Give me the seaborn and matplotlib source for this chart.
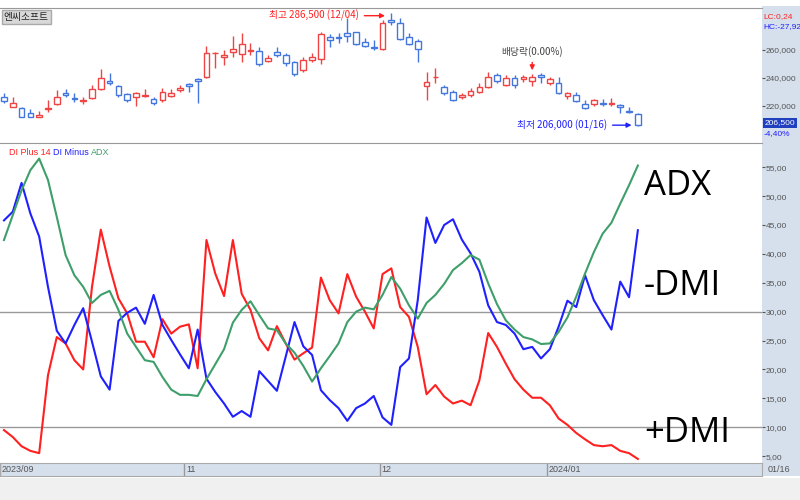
import pandas as pd
import seaborn as sns
import matplotlib.pyplot as plt
import matplotlib.patches as mpatches
import numpy as np

# candle data, thousands of won (open, high, low, close)
opens = [226.7, 219.5, 218.3, 214.7, 212.4, 217.6, 221.4, 229.5, 225.5, 223.6,
         225.9, 231.9, 237.8, 234.3, 228.3, 226.2, 227.1, 224.7, 224.3, 227.4,
         231.4, 235.7, 239.0, 240.5, 257.6, 254.7, 258.8, 256.9, 259.5, 259.5,
         252.4, 258.8, 256.4, 251.7, 245.7, 252.8, 253.3, 269.0, 269.0, 271.9,
         272.6, 265.9, 262.4, 260.5, 281.4, 279.5, 269.5, 266.7, 234.3, 240.5,
         233.3, 230.2, 226.2, 227.8, 230.2, 233.8, 242.1, 235.0, 240.2, 239.0,
         238.1, 242.1, 236.7, 236.7, 227.1, 227.8, 221.4, 221.4, 222.4, 221.4,
         220.7, 216.7, 214.3]
highs = [229.0, 226.2, 219.5, 218.1, 216.7, 224.3, 231.4, 231.9, 229.0, 226.7,
         235.0, 246.2, 243.3, 235.0, 229.5, 230.2, 231.9, 226.2, 232.6, 231.9,
         235.0, 236.7, 240.2, 262.8, 258.8, 260.0, 270.0, 271.9, 264.7, 262.4,
         256.4, 262.4, 257.6, 252.4, 254.7, 257.6, 273.1, 271.4, 271.9, 282.6,
         273.1, 268.3, 267.1, 281.4, 286.5, 282.6, 271.9, 267.6, 244.5, 246.9,
         235.0, 231.4, 229.0, 232.6, 236.2, 244.5, 243.3, 242.1, 242.1, 242.1,
         242.8, 243.3, 240.9, 240.5, 230.2, 230.2, 224.3, 224.7, 224.7, 225.5,
         221.4, 219.0, 215.2]
lows = [221.9, 219.0, 211.9, 211.9, 211.9, 215.9, 220.7, 226.7, 223.1, 221.4,
        224.7, 231.4, 235.0, 226.2, 223.1, 220.0, 226.2, 220.7, 223.1, 226.7,
        230.2, 230.2, 222.4, 239.7, 246.9, 249.3, 255.2, 251.7, 256.4, 248.6,
        251.7, 254.7, 248.8, 241.4, 244.5, 251.7, 250.0, 262.4, 264.7, 266.0,
        263.6, 262.4, 260.0, 260.0, 277.8, 267.1, 263.6, 251.7, 224.3, 236.2,
        227.8, 223.8, 224.7, 226.2, 229.0, 232.6, 236.7, 234.3, 232.6, 237.4,
        234.3, 236.7, 235.0, 228.6, 224.7, 223.1, 217.6, 220.0, 220.0, 220.0,
        215.2, 214.7, 206.0]
closes = [223.8, 222.4, 212.4, 212.4, 213.6, 218.3, 226.7, 227.8, 224.7, 224.3,
          231.9, 240.2, 236.2, 227.8, 224.3, 229.5, 227.8, 221.9, 230.0, 229.5,
          232.6, 234.3, 237.8, 257.6, 258.1, 256.4, 260.5, 264.0, 260.0, 249.7,
          254.0, 256.4, 250.5, 242.8, 252.8, 254.7, 271.4, 267.1, 268.3, 270.0,
          264.0, 262.8, 261.2, 279.5, 280.0, 267.6, 264.0, 260.5, 237.4, 241.0,
          229.0, 224.3, 227.8, 230.9, 233.3, 240.5, 237.8, 239.7, 235.0, 240.5,
          240.9, 240.5, 239.3, 229.0, 229.0, 223.8, 218.3, 224.3, 221.4, 221.9,
          219.0, 216.0, 206.5]

di_plus = [9.5, 8.3, 6.7, 5.9, 5.5, 19.0, 25.6, 24.5, 21.6, 20.0,
           34.3, 44.2, 37.8, 32.3, 29.7, 24.8, 24.8, 22.1, 28.7, 26.2,
           27.4, 27.8, 20.2, 42.4, 36.6, 32.7, 42.4, 33.1, 30.3, 25.4,
           23.3, 27.5, 24.5, 21.7, 22.8, 23.8, 35.9, 32.0, 29.7, 36.5,
           32.6, 30.0, 27.1, 36.5, 37.5, 30.8, 29.1, 23.9, 15.7, 17.3,
           15.3, 14.1, 14.6, 13.8, 18.1, 26.3, 23.9, 21.0, 18.3, 16.5,
           15.1, 15.1, 13.8, 11.5, 10.4, 9.0, 7.9, 6.9, 6.7, 6.9,
           5.9, 5.5, 4.5]
di_minus = [45.8, 47.3, 52.3, 47.0, 43.0, 34.3, 26.7, 24.5, 27.7, 30.6,
            24.8, 18.8, 16.5, 28.4, 29.8, 30.7, 27.9, 32.9, 27.7, 25.1,
            22.6, 20.2, 26.9, 18.4, 16.1, 14.1, 11.8, 12.8, 11.8, 19.7,
            18.0, 16.3, 22.2, 28.2, 24.0, 22.5, 16.4, 14.7, 13.3, 11.1,
            13.3, 14.1, 15.4, 11.7, 10.4, 20.4, 21.9, 32.0, 46.3, 41.9,
            45.0, 46.0, 42.5, 40.1, 36.9, 31.1, 28.2, 27.7, 26.2, 23.5,
            23.9, 21.9, 23.5, 27.4, 31.9, 30.8, 36.3, 32.0, 29.4, 26.9,
            35.2, 32.5, 44.1]
adx = [42.4, 46.7, 51.0, 54.5, 56.5, 52.8, 46.4, 39.8, 36.3, 34.3,
       31.5, 32.9, 33.6, 30.3, 26.2, 23.9, 21.6, 21.3, 18.7, 16.5,
       15.6, 15.6, 15.4, 18.3, 20.9, 23.5, 28.1, 30.3, 31.8, 29.4,
       27.1, 26.8, 24.5, 22.9, 20.6, 17.9, 20.2, 22.3, 24.5, 28.2,
       30.0, 30.7, 30.4, 32.9, 36.0, 34.0, 31.1, 28.8, 31.5, 32.9,
       34.8, 37.2, 38.4, 39.8, 39.0, 34.9, 31.3, 28.5, 26.9, 25.6,
       25.2, 24.4, 24.5, 26.5, 29.0, 32.6, 36.6, 40.3, 43.5, 45.4,
       48.7, 51.9, 55.3]

dmi_ticks = [5, 10, 15, 20, 25, 30, 35, 40, 45, 50, 55]
price_ticks = [220, 240, 260]

plt.rcParams['font.family'] = ['Noto Sans CJK KR', 'DejaVu Sans']
SMALL = ['Liberation Sans', 'DejaVu Sans']
fig = plt.figure(figsize=(8, 5), dpi=100)
fig.patch.set_facecolor('white')

n = len(closes)
idx = np.arange(n)
XL = (-0.45, 86.1)
RED, BLUE, GREEN = '#ff2020', '#2020ff', '#3f9f6a'

# right scale strip + bottom strips
fig.add_artist(mpatches.Rectangle((0.9525, 0.048), 0.0475, 0.94, transform=fig.transFigure,
                                  facecolor='#d6e0ec', edgecolor='none', zorder=0))
fig.add_artist(mpatches.Rectangle((0, 0.0), 1, 0.045, transform=fig.transFigure,
                                  facecolor='#f0f0f0', edgecolor='none', zorder=0))

# --- price panel ---
ax1 = fig.add_axes([0, 0.72, 0.9525, 0.264])
up = np.array(closes) >= np.array(opens)
for i in range(n):
    c = '#ee4444' if up[i] else '#4477dd'
    ax1.vlines(i, lows[i], highs[i], color=c, lw=1, zorder=1)
    lo, hi = min(opens[i], closes[i]), max(opens[i], closes[i])
    ax1.bar(i, max(hi - lo, 0.3), bottom=lo, width=0.65, facecolor='white',
            edgecolor=c, lw=1, zorder=2)
ax1.set_xlim(*XL)
ax1.set_ylim(195.7, 290)
ax1.yaxis.tick_right()
ax1.set_yticks(price_ticks)
ax1.set_yticklabels([f'{t},000' for t in price_ticks], fontsize=6, color='#555555',
                    family=SMALL)
ax1.tick_params(axis='y', length=2, pad=0.5, colors='#555555', labelcolor='#555555')
ax1.set_xticks([])
for s in ax1.spines.values():
    s.set_visible(False)
ax1.spines['top'].set_visible(True)
ax1.spines['top'].set_color('#999999')

ax1.annotate('최고 286,500 (12/04)', xy=(43.6, 284.5), xytext=(40.3, 284.5), fontsize=7,
             color=RED, va='center', ha='right',
             arrowprops=dict(arrowstyle='-|>', color=RED, lw=1))
ax1.annotate('배당락(0.00%)', xy=(60, 243.5), xytext=(60, 259), fontsize=7,
             color='#444444', ha='center', va='center',
             arrowprops=dict(arrowstyle='-|>', color=RED, lw=1))
ax1.annotate('최저 206,000 (01/16)', xy=(71.6, 206.3), xytext=(68.5, 206.3), fontsize=7,
             color=BLUE, va='center', ha='right',
             arrowprops=dict(arrowstyle='-|>', color=BLUE, lw=1))
ax1.text(0.005, 0.93, '엔씨소프트', transform=ax1.transAxes, fontsize=7, color='#222222',
         va='center', bbox=dict(facecolor='#d8d8d8', edgecolor='#aaaaaa', pad=1.5))
fig.text(0.954, 0.966, 'LC:0,24', fontsize=6, color=RED, va='center', family=SMALL)
fig.text(0.954, 0.946, 'HC:-27,92', fontsize=6, color=BLUE, va='center', family=SMALL)
fig.text(0.956, 0.754, '206,500', fontsize=6, color='white', va='center', family=SMALL,
         bbox=dict(facecolor='#2040c0', edgecolor='none', pad=1))
fig.text(0.954, 0.733, '-4,40%', fontsize=6, color=BLUE, va='center', family=SMALL)

# --- DMI panel ---
ax2 = fig.add_axes([0, 0.074, 0.9525, 0.64])
df = pd.DataFrame({
    'i': np.concatenate([idx, idx, idx]),
    'v': di_plus + di_minus + adx,
    's': ['DI Plus 14'] * n + ['DI Minus'] * n + ['ADX'] * n,
})
sns.lineplot(data=df, x='i', y='v', hue='s', palette=[RED, BLUE, GREEN],
             lw=1.5, legend=False, ax=ax2)
ax2.axhline(30, color='#999999', lw=1, zorder=0)
ax2.axhline(10, color='#999999', lw=1, zorder=0)
ax2.set_xlim(*XL)
ax2.set_ylim(3.8, 59.2)
ax2.yaxis.tick_right()
ax2.set_yticks(dmi_ticks)
ax2.set_yticklabels([f'{t},00' for t in dmi_ticks], fontsize=6, color='#555555',
                    family=SMALL)
ax2.tick_params(axis='y', length=2, pad=0.5, colors='#555555', labelcolor='#555555')
ax2.set_xticks([])
ax2.set_xlabel('')
ax2.set_ylabel('')
for s in ax2.spines.values():
    s.set_visible(False)
ax2.spines['top'].set_visible(True)
ax2.spines['top'].set_color('#999999')
ax2.text(0.012, 0.985, 'DI Plus 14', transform=ax2.transAxes, fontsize=6.5, color=RED,
         va='top', family=SMALL)
ax2.text(0.070, 0.985, 'DI Minus', transform=ax2.transAxes, fontsize=6.5, color=BLUE,
         va='top', family=SMALL)
ax2.text(0.119, 0.985, 'ADX', transform=ax2.transAxes, fontsize=6.5, color=GREEN,
         va='top', family=SMALL)
ax2.text(72.7, 51.8, 'ADX', fontsize=25, color='black', va='center', family='Open Sans')
ax2.text(72.7, 34.5, '-DMI', fontsize=25, color='black', va='center', family='Open Sans')
ax2.text(72.7, 9.0, '+DMI', fontsize=25, color='black', va='center', family='Open Sans')

# date strip
ax3 = fig.add_axes([0, 0.048, 0.9525, 0.026])
ax3.set_facecolor('#d6e0ec')
ax3.set_xlim(*XL)
ax3.set_ylim(0, 1)
ax3.set_xticks([])
ax3.set_yticks([])
for s in ax3.spines.values():
    s.set_color('#aaaaaa')
for pos, lab in [(-0.45, '2023/09'), (20.5, '11'), (42.7, '12'), (61.7, '2024/01')]:
    ax3.axvline(pos, color='#999999', lw=1)
    ax3.text(pos + 0.2, 0.5, lab, fontsize=6.5, color='#555555', va='center', family=SMALL)
fig.text(0.96, 0.061, '01/16', fontsize=6.5, color='#555555', va='center', family=SMALL)

plt.savefig('out.png', dpi=100)
